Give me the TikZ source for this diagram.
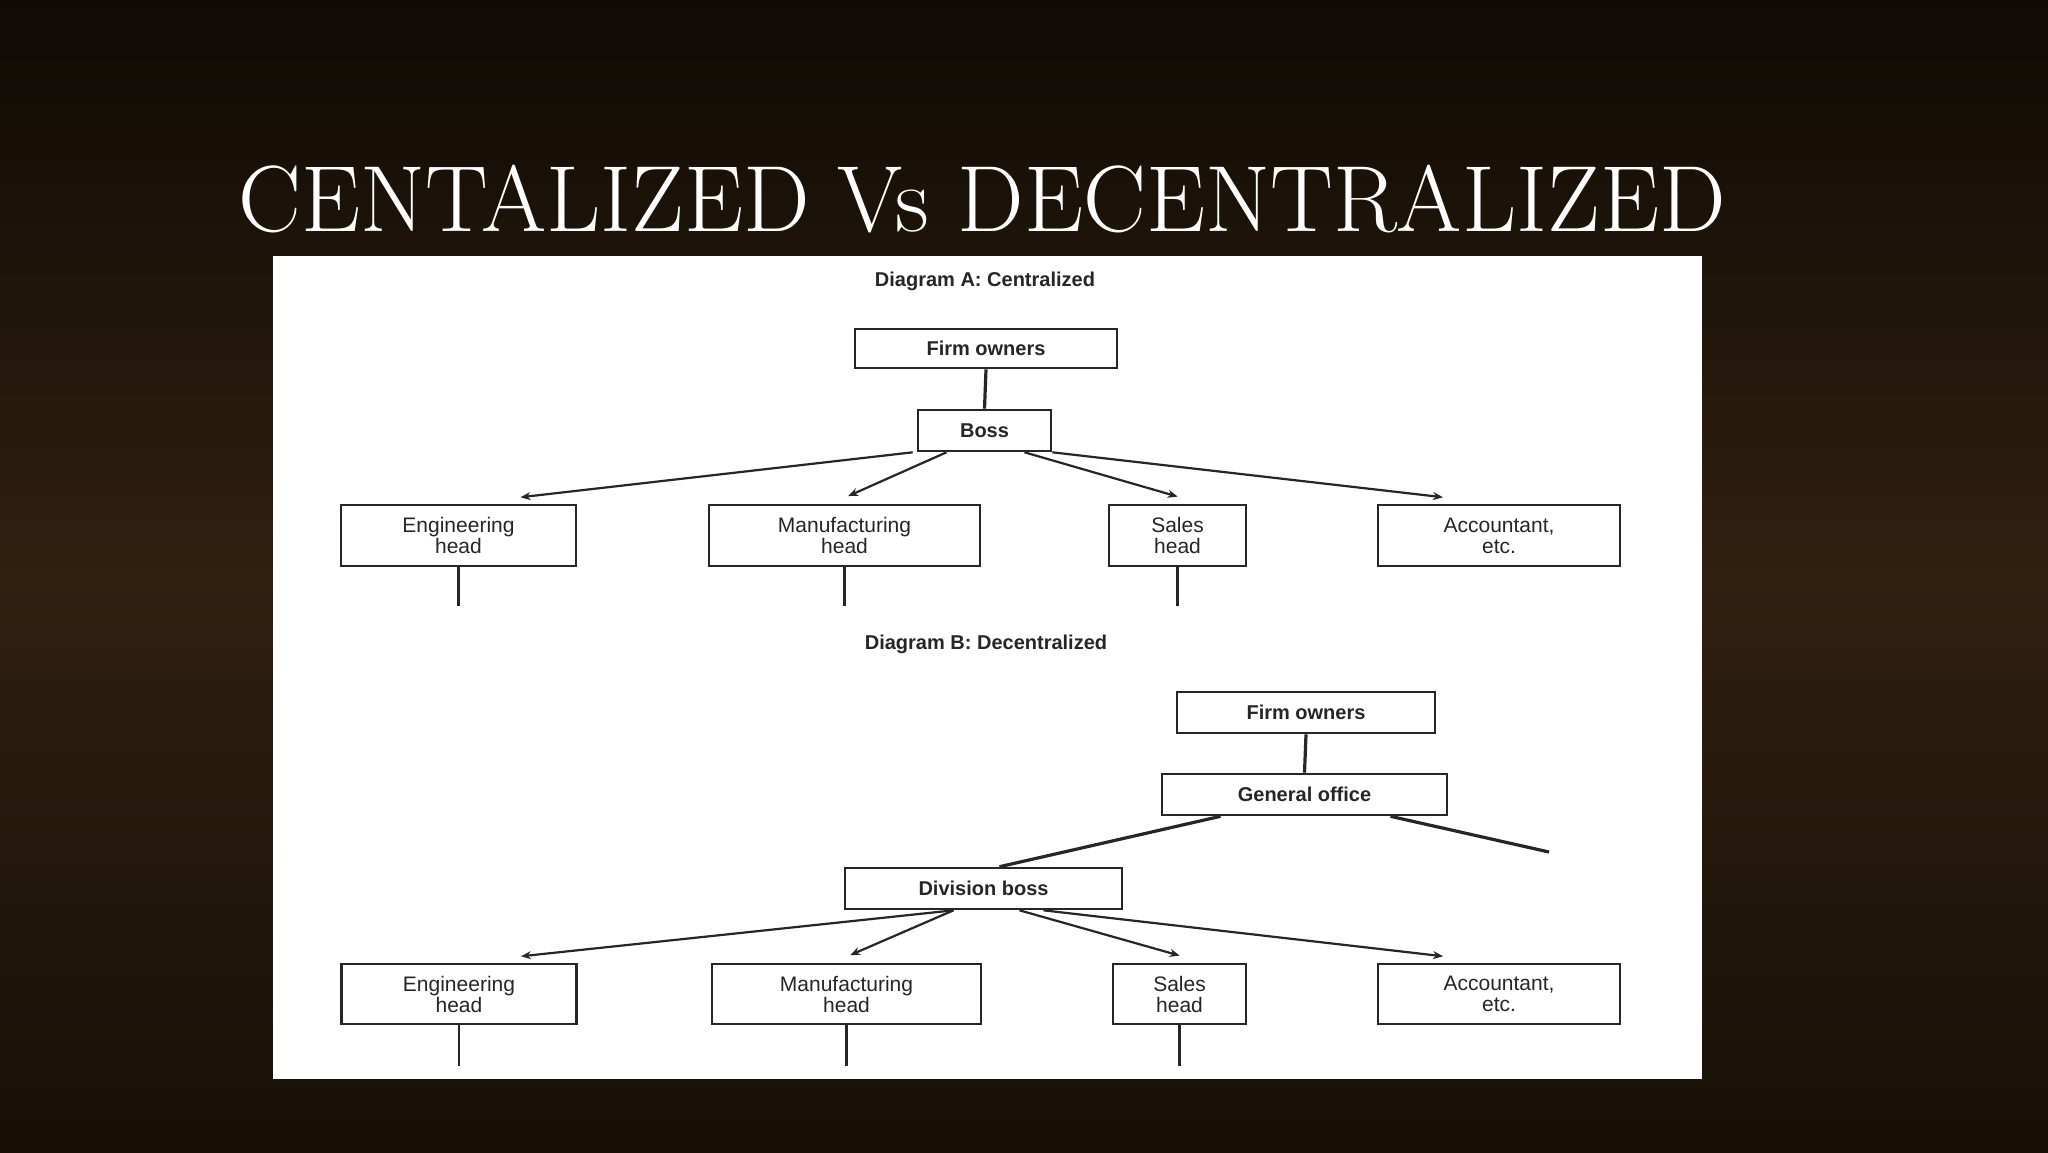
\documentclass[tikz,border=0pt]{standalone}
\usepackage{fontspec}
\newfontfamily\boxfont{Liberation Sans}
\usetikzlibrary{arrows.meta,calc}
\begin{document}
\begin{tikzpicture}[x=0.5pt,y=-0.5pt,
  box/.style={draw=black!85,line width=1.3pt,inner sep=0pt,align=center,font=\boxfont\fontsize{10.5}{10.5}\selectfont,text=black!85},
  bbox/.style={box,font=\boxfont\bfseries\fontsize{10}{10}\selectfont},
  conn/.style={line width=1.1pt,draw=black!85},
  arr/.style={conn,-{Stealth[length=5pt,width=4pt]},shorten >=2pt},
  captext/.style={font=\boxfont\bfseries\fontsize{10}{10}\selectfont,text=black!85}]
\useasboundingbox (0,0) rectangle (2048,1152);
\shade[top color=black!92!brown, bottom color=black!88!brown, middle color=brown!25!black] (0,0) rectangle (2048,1152);
\fill[white] (273,256) rectangle (1702,1079);
\node[text=white,font=\fontsize{47}{55}\selectfont] (title) at (982,199) {CENTALIZED Vs DECENTRALIZED};
% Diagram A
\node[captext] (capA) at (985,281) {Diagram A: Centralized};
\node[bbox,minimum width=131pt,minimum height=19.5pt] (fa) at (986,348.5) {Firm owners};
\node[bbox,minimum width=66.5pt,minimum height=20.5pt] (boss) at (984.5,430.5) {Boss};
\draw[conn,line width=1.6pt] (fa.south) -- (boss.north);
\node[box,minimum width=117.5pt,minimum height=30.5pt] (ea) at (458.5,535.5) {Engineering\\head};
\node[box,minimum width=135.5pt,minimum height=30.5pt] (ma) at (844.5,535.5) {Manufacturing\\head};
\node[box,minimum width=68.5pt,minimum height=30.5pt] (sa) at (1177.5,535.5) {Sales\\head};
\node[box,minimum width=121pt,minimum height=30.5pt] (aa) at (1499,535.5) {Accountant,\\etc.};
\draw[arr] ([xshift=-2pt]boss.south west) -- ([xshift=29pt,yshift=3pt]ea.north);
\draw[arr] ([xshift=-19pt]boss.south) -- ([yshift=3pt]ma.north);
\draw[arr] ([xshift=20pt]boss.south) -- ([xshift=2pt,yshift=3pt]sa.north);
\draw[arr] (boss.south east) -- ([xshift=-26pt,yshift=3pt]aa.north);
\foreach \n in {ea,ma,sa} \draw[conn] (\n.south) -- ++(0,39);
% Diagram B
\node[captext] (capB) at (986,644) {Diagram B: Decentralized};
\node[bbox,minimum width=129pt,minimum height=20.5pt] (fb) at (1306,712.5) {Firm owners};
\node[bbox,minimum width=142.5pt,minimum height=20.5pt] (go) at (1304.5,794.5) {General office};
\draw[conn,line width=1.6pt] (fb.south) -- (go.north);
\node[bbox,minimum width=138.5pt,minimum height=20.5pt] (db) at (983.5,888.5) {Division boss};
\coordinate (goend) at (1549,852);
\draw[conn,line width=1.6pt] ([xshift=-42pt]go.south) -- ([xshift=8pt]db.north);
\draw[conn,line width=1.6pt] ([xshift=43pt]go.south) -- (goend);
\node[box,minimum width=117.5pt,minimum height=30pt] (eb) at (459,994) {Engineering\\head};
\node[box,minimum width=134.5pt,minimum height=30pt] (mb) at (846.5,994) {Manufacturing\\head};
\node[box,minimum width=66.5pt,minimum height=30pt] (sb) at (1179.5,994) {Sales\\head};
\node[box,minimum width=121pt,minimum height=30pt] (ab) at (1499,994) {Accountant,\\etc.};
\draw[arr] ([xshift=-15pt]db.south) -- ([xshift=29pt,yshift=3pt]eb.north);
\draw[arr] ([xshift=-15pt]db.south) -- ([yshift=3pt]mb.north);
\draw[arr] ([xshift=18pt]db.south) -- ([xshift=2pt,yshift=3pt]sb.north);
\draw[arr] ([xshift=30pt]db.south) -- ([xshift=-26pt,yshift=3pt]ab.north);
\foreach \n in {eb,mb,sb} \draw[conn] (\n.south) -- ++(0,41);
\end{tikzpicture}
\end{document}
